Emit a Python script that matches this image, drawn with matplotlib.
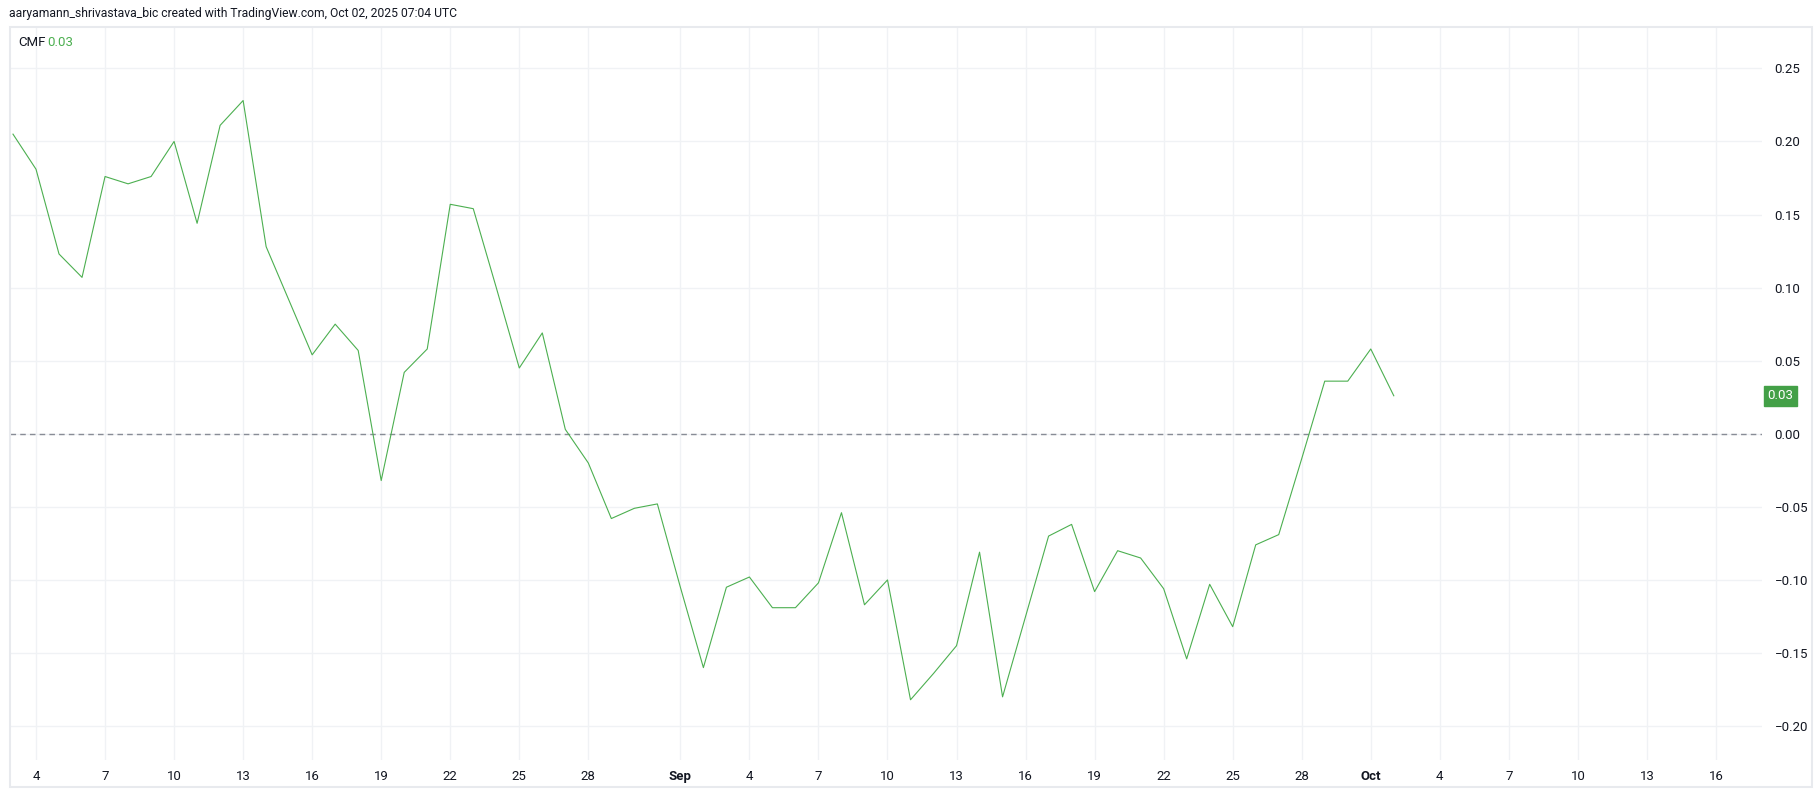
import matplotlib
matplotlib.use("Agg")
import matplotlib.pyplot as plt
import matplotlib.dates as mdates
from matplotlib.patches import Rectangle
import pandas as pd

plt.rcParams['font.family'] = ['Roboto', 'DejaVu Sans']

# daily CMF values, Aug 3 -> Oct 2 2025
dates = pd.date_range('2025-08-03', '2025-10-02', freq='D')
cmf = [0.205, 0.181, 0.123, 0.107, 0.176, 0.171, 0.176, 0.200, 0.144, 0.211,
       0.228, 0.128, 0.091, 0.054, 0.075, 0.057, -0.032, 0.042, 0.058, 0.157,
       0.154, 0.100, 0.045, 0.069, 0.003, -0.020, -0.058, -0.051, -0.048,
       -0.105, -0.160, -0.105, -0.098, -0.119, -0.119, -0.102, -0.054, -0.117,
       -0.100, -0.182, -0.164, -0.145, -0.081, -0.180, -0.125, -0.070, -0.062,
       -0.108, -0.080, -0.085, -0.106, -0.154, -0.103, -0.132, -0.076, -0.069,
       -0.017, 0.036, 0.036, 0.058, 0.026]

tick_dates = pd.to_datetime(
    ['2025-08-04', '2025-08-07', '2025-08-10', '2025-08-13', '2025-08-16',
     '2025-08-19', '2025-08-22', '2025-08-25', '2025-08-28', '2025-09-01',
     '2025-09-04', '2025-09-07', '2025-09-10', '2025-09-13', '2025-09-16',
     '2025-09-19', '2025-09-22', '2025-09-25', '2025-09-28', '2025-10-01',
     '2025-10-04', '2025-10-07', '2025-10-10', '2025-10-13', '2025-10-16'])
tick_labels = ['4', '7', '10', '13', '16', '19', '22', '25', '28', 'Sep',
               '4', '7', '10', '13', '16', '19', '22', '25', '28', 'Oct',
               '4', '7', '10', '13', '16']
y_ticks = [-0.20, -0.15, -0.10, -0.05, 0.00, 0.05, 0.10, 0.15, 0.20, 0.25]

green = '#4caf50'
text_col = '#131722'
grid_col = '#f0f2f5'

W, H = 1817, 805
fig = plt.figure(figsize=(W / 100, H / 100), dpi=100)
ax = fig.add_axes([10 / W, 1 - 760 / H, (1762 - 10) / W, (760 - 27) / H])

ax.plot(dates, cmf, color=green, lw=0.8, zorder=3)
ax.axhline(0, color='#888c96', lw=1.0, ls=(0, (4, 3)), zorder=2)

t0 = pd.Timestamp('2025-08-04')
ax.set_xlim(mdates.date2num(t0) - 1.13, mdates.date2num(t0) + 75.0)
ax.set_ylim(-0.2232, 0.2783)

ax.set_xticks(tick_dates)
ax.set_xticklabels(tick_labels)
for lab in ax.get_xticklabels():
    if lab.get_text() in ('Sep', 'Oct'):
        lab.set_fontweight('bold')
ax.set_yticks(y_ticks)
ax.set_yticklabels(['%.2f' % v if v >= 0 else '\u2212%.2f' % -v for v in y_ticks])
ax.yaxis.tick_right()
ax.tick_params(axis='both', length=0, labelsize=9.5, colors=text_col)
ax.tick_params(axis='x', pad=7)
ax.tick_params(axis='y', pad=9)
ax.grid(True, color=grid_col, lw=1.0, zorder=0)
for s in ax.spines.values():
    s.set_visible(False)

# last value badge on the price scale
last = cmf[-1]
ax.annotate('%.2f' % last, xy=(1.0, last), xycoords=('axes fraction', 'data'),
            xytext=(4, 0), textcoords='offset points', va='center', ha='left',
            fontsize=9.5, color='white',
            bbox=dict(boxstyle='square,pad=0.25', fc='#43a047', ec='#43a047'))

# pane border
fig.patches.append(Rectangle((10 / W, 1 - 787 / H), (1812 - 10) / W, (787 - 27) / H,
                             transform=fig.transFigure, fill=False,
                             ec='#e8eaee', lw=1.5))

fig.text(9 / W, 1 - 14 / H,
         'aaryamann_shrivastava_bic created with TradingView.com, Oct 02, 2025 07:04 UTC',
         fontsize=8.7, color=text_col, va='center', ha='left')
fig.text(18 / W, 1 - 42 / H, 'CMF', fontsize=9.5, color=text_col, va='center')
fig.text(47 / W, 1 - 42 / H, '%.2f' % last, fontsize=9.5, color=green, va='center')

fig.savefig('out.png', dpi=100, facecolor='white')
